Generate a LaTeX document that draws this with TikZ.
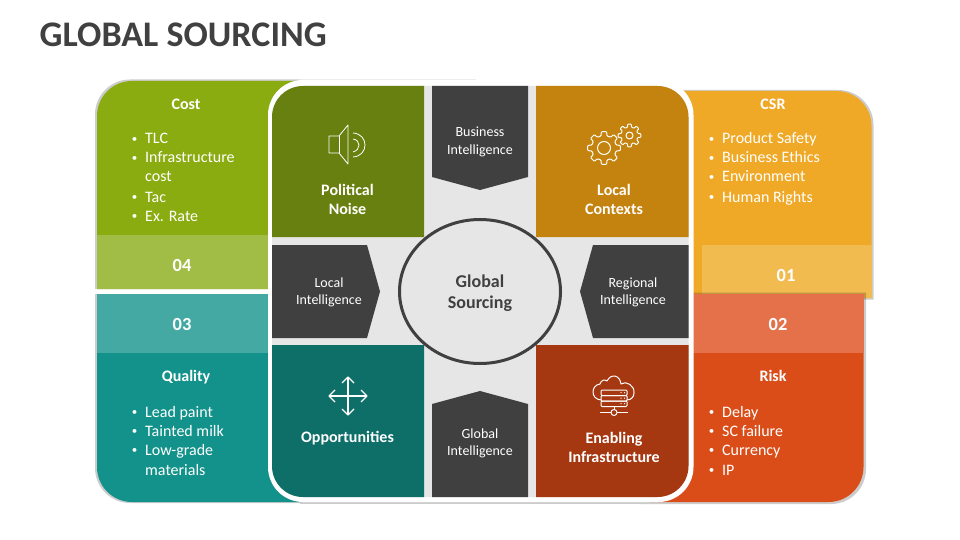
\documentclass[tikz,border=0pt]{standalone}
\usepackage{fontspec}
\usetikzlibrary{shapes.geometric}
\setmainfont{Carlito}
\definecolor{inkgray}{HTML}{404040}
\definecolor{hubgray}{HTML}{E6E6E6}
\definecolor{costgreen}{HTML}{8AAC10}
\definecolor{costband}{HTML}{A2BD45}
\definecolor{noisegreen}{HTML}{68800F}
\definecolor{csrorange}{HTML}{EFA927}
\definecolor{csrband}{HTML}{F2BB50}
\definecolor{contextbrown}{HTML}{C4820E}
\definecolor{riskred}{HTML}{DA4D19}
\definecolor{riskband}{HTML}{E4714A}
\definecolor{infrared}{HTML}{A53810}
\definecolor{qualityteal}{HTML}{12928A}
\definecolor{qualityband}{HTML}{43A9A2}
\definecolor{opporteal}{HTML}{0E6E68}
\tikzset{
panelhead/.style={text=white, font=\fontsize{16}{16}\selectfont\bfseries, anchor=base},
bandnum/.style={text=white, font=\fontsize{18.5}{18.5}\selectfont\bfseries, anchor=base},
listitem/.style={text=white, font=\fontsize{16}{16}\selectfont, anchor=base west, inner sep=0pt},
bulletitem/.style={listitem, label={[text=white, font=\fontsize{11}{11}\selectfont, anchor=base east, inner sep=0pt, xshift=-7.5pt, yshift=1.5pt]base west:\textbullet}},
squarelabel/.style={text=white, font=\fontsize{16}{19}\selectfont\bfseries, align=center, anchor=center, inner sep=0pt},
arrowlabel/.style={text=white, font=\fontsize{14}{17.3}\selectfont, align=center, anchor=center, inner sep=0pt},
iconline/.style={draw=white, line width=1pt, line join=round},
paneledge/.style={fill=black, fill opacity=.2}
}
\newcommand{\gearicon}[5]{
\draw[iconline, rounded corners=.7pt] ({#1+#3*cos(-14)},{#2+#3*sin(-14)})
\foreach \ang in {0,45,...,315}{
-- ({#1+#3*cos(\ang-14)},{#2+#3*sin(\ang-14)})
-- ({#1+#4*cos(\ang-9)},{#2+#4*sin(\ang-9)})
-- ({#1+#4*cos(\ang+9)},{#2+#4*sin(\ang+9)})
-- ({#1+#3*cos(\ang+14)},{#2+#3*sin(\ang+14)})
} -- cycle;
\draw[iconline] (#1,#2) circle (#5);
}
\begin{document}
\begin{tikzpicture}[x=1pt, y=-1pt]
\useasboundingbox (0,0) rectangle (960,540);
\fill[white] (0,0) rectangle (960,540);

\node[text=inkgray, font=\fontsize{36}{36}\selectfont\bfseries, anchor=base west, inner sep=0pt] (title) at (39.5,46.5) {GLOBAL SOURCING};

\fill[paneledge] (320,79.5) [rounded corners=35] -- (95,79.5) [sharp corners] -- (95,289) -- (320,289) -- cycle;
\fill[costgreen] (320,81) [rounded corners=35] -- (97,81) [sharp corners] -- (97,289) -- (320,289) -- cycle;
\fill[costband] (97,235) rectangle (320,289);

\fill[paneledge] (320,294) -- (95,294) [rounded corners=35] -- (95,503) [sharp corners] -- (320,503) -- cycle;
\fill[qualityteal] (320,294) -- (97,294) [rounded corners=35] -- (97,502) [sharp corners] -- (320,502) -- cycle;
\fill[qualityband] (97,294) rectangle (320,353);

\fill[paneledge] (640,90) [rounded corners=35] -- (873.5,90) [sharp corners] -- (873.5,299.5) -- (640,299.5) -- cycle;
\fill[csrorange] (640,91) [rounded corners=35] -- (871.5,91) [sharp corners] -- (871.5,298) -- (640,298) -- cycle;
\fill[csrband] (702,245) rectangle (871.5,298);

\fill[paneledge] (640,292.5) -- (866,292.5) [rounded corners=35] -- (866,504) [sharp corners] -- (640,504) -- cycle;
\fill[riskred] (640,294) -- (863.5,294) [rounded corners=35] -- (863.5,502) [sharp corners] -- (640,502) -- cycle;
\fill[riskband] (640,294) rectangle (863.5,353);

\fill[black!8] (300,79) rectangle (476,80);
\fill[black!20] (300,502) rectangle (650,503.5);
\fill[white, rounded corners=35] (268,80) rectangle (693.5,502);
\fill[hubgray, rounded corners=31] (272,86) rectangle (688.5,497);

\fill[noisegreen] (424,86) -- (424,237) -- (272,237) [rounded corners=31] -- (272,86) [sharp corners] -- cycle;
\fill[contextbrown] (536,86) -- (536,237) -- (688.5,237) [rounded corners=31] -- (688.5,86) [sharp corners] -- cycle;
\fill[opporteal] (424,497) -- (424,345) -- (272,345) [rounded corners=31] -- (272,497) [sharp corners] -- cycle;
\fill[infrared] (536,497) -- (536,345) -- (688.5,345) [rounded corners=31] -- (688.5,497) [sharp corners] -- cycle;

\fill[inkgray] (432,86) -- (528,86) -- (528,177) -- (480,190) -- (432,177) -- cycle;
\fill[inkgray] (432,497) -- (528,497) -- (528,404) -- (480,391) -- (432,404) -- cycle;
\fill[inkgray] (272,245) -- (367,245) -- (380,291.5) -- (367,338) -- (272,338) -- cycle;
\fill[inkgray] (688.5,245) -- (593,245) -- (580,291.5) -- (593,338) -- (688.5,338) -- cycle;

\node[ellipse, draw=inkgray, line width=3pt, fill=hubgray, minimum width=161pt, minimum height=144pt, inner sep=0pt, text=inkgray, font=\fontsize{18}{21}\selectfont\bfseries, align=center] (hub) at (480,291.5) {\rule{0pt}{17pt}Global\\Sourcing};

\node[arrowlabel] (business) at (480,142) {Business\\Intelligence};
\node[arrowlabel] (globalint) at (480,443) {Global\\Intelligence};
\node[arrowlabel] (localint) at (329,292) {Local\\Intelligence};
\node[arrowlabel] (regional) at (633,292) {Regional\\Intelligence};

\node[squarelabel] (noise) at (347.5,199) {Political\\Noise};
\node[squarelabel] (contexts) at (614,199) {Local\\Contexts};
\node[squarelabel] (opport) at (347.5,438) {Opportunities};
\node[squarelabel] (infra) at (614,447) {Enabling\\Infrastructure};

\node[panelhead] (cost) at (186,110) {Cost};
\node[bulletitem] (cost1) at (145,144) {TLC};
\node[bulletitem] (cost2) at (145,163) {Infrastructure};
\node[listitem] (cost3) at (145,182) {cost};
\node[bulletitem] (cost4) at (145,202) {Tac};
\node[bulletitem] (cost5) at (145,221) {Ex. Rate};
\node[bandnum] (num4) at (182,271) {04};

\node[panelhead] (quality) at (186,381) {Quality};
\node[bulletitem] (quality1) at (145,417) {Lead paint};
\node[bulletitem] (quality2) at (145,436) {Tainted milk};
\node[bulletitem] (quality3) at (145,455) {Low-grade};
\node[listitem] (quality4) at (145,475) {materials};
\node[bandnum] (num3) at (182,330) {03};

\node[panelhead] (csr) at (773,110) {CSR};
\node[bulletitem] (csr1) at (722,144) {Product Safety};
\node[bulletitem] (csr2) at (722,163) {Business Ethics};
\node[bulletitem] (csr3) at (722,182) {Environment};
\node[bulletitem] (csr4) at (722,202) {Human Rights};
\node[bandnum] (num1) at (786,281) {01};

\node[panelhead] (risk) at (773,381) {Risk};
\node[bulletitem] (risk1) at (722,417) {Delay};
\node[bulletitem] (risk2) at (722,436) {SC failure};
\node[bulletitem] (risk3) at (722,455) {Currency};
\node[bulletitem] (risk4) at (722,475) {IP};
\node[bandnum] (num2) at (778,330) {02};

\draw[iconline, line width=.8pt] (329,136) -- (339,136) -- (348,125) -- (348,164) -- (339,153) -- (329,153) -- cycle;
\draw[iconline, line width=.8pt] (339,136) -- (339,153);
\draw[iconline, line width=.8pt] (353,133) .. controls (369,134) and (369,156) .. (353,157);
\draw[iconline, line width=.8pt] (353,139) .. controls (361,140) and (361,150) .. (353,152);

\gearicon{604}{148}{12.5}{16.5}{6.5}
\gearicon{629.5}{135.5}{8.5}{11.5}{3.5}

\draw[iconline, line width=1.3pt] (348,377) -- (348,415);
\draw[iconline, line width=1.3pt] (329,396) -- (367,396);
\draw[iconline, line width=1.3pt] (342,383) -- (348,377) -- (354,383);
\draw[iconline, line width=1.3pt] (342,409) -- (348,415) -- (354,409);
\draw[iconline, line width=1.3pt] (335,390) -- (329,396) -- (335,402);
\draw[iconline, line width=1.3pt] (361,390) -- (367,396) -- (361,402);

\draw[iconline] (601,400) .. controls (590,399) and (591,385) .. (600,384) .. controls (601,380) and (605,379) .. (607,381) .. controls (611,373) and (620,375) .. (621,384) .. controls (626,380) and (635,386) .. (634,393) .. controls (634,397) and (631,400) .. (627,400);
\draw[iconline, rounded corners=1pt] (601,390) rectangle (627,395.5);
\draw[iconline, rounded corners=1pt] (601,395.5) rectangle (627,401);
\draw[iconline, rounded corners=1pt] (601,401) rectangle (627,406.5);
\foreach \rowy in {392.7,398.2,403.7}{
\fill[white] (621,\rowy) circle (.7);
\fill[white] (624.5,\rowy) circle (.7);
}
\draw[iconline] (614,406.5) -- (614,409.5);
\draw[iconline] (614,412.5) circle (3);
\draw[iconline] (600,412.5) -- (611,412.5);
\draw[iconline] (617,412.5) -- (628,412.5);

\end{tikzpicture}
\end{document}
